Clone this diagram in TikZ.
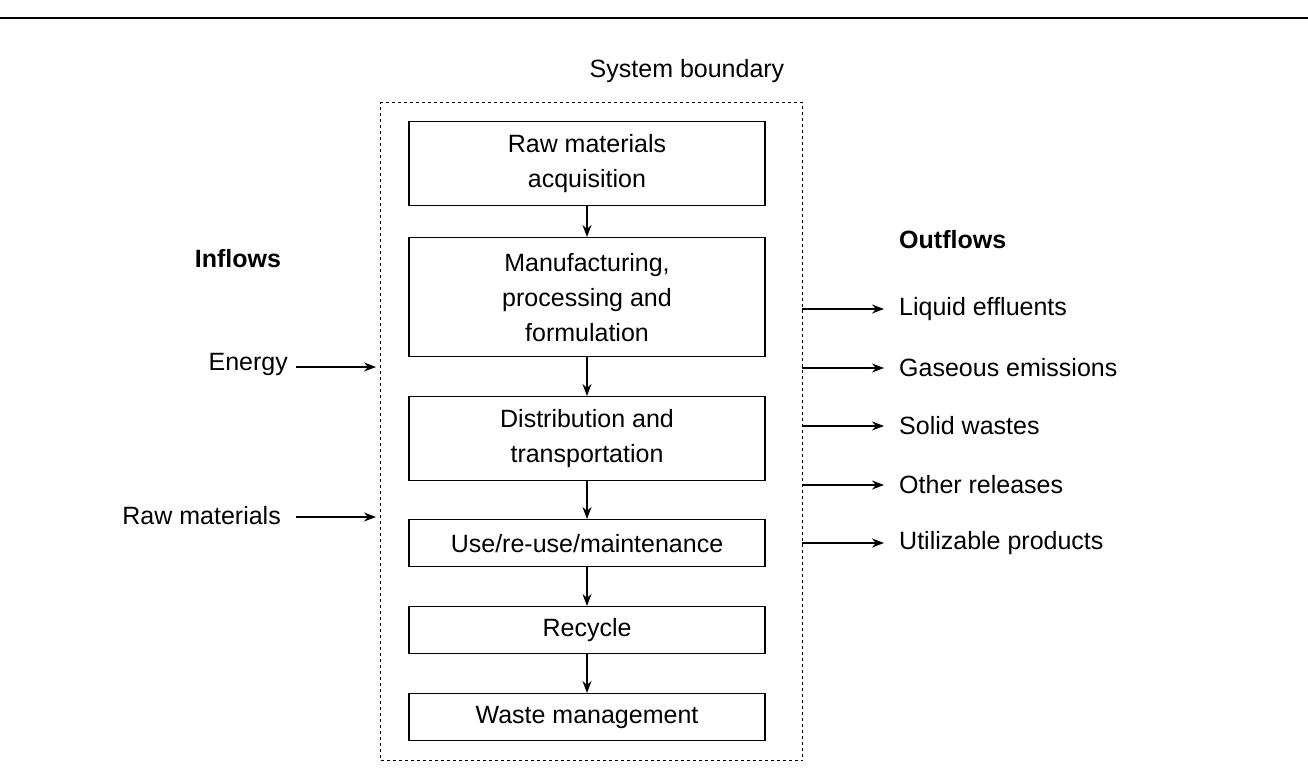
\documentclass[tikz,border=0pt]{standalone}
\usepackage{fontspec}
\setmainfont{Liberation Sans}
\usetikzlibrary{arrows.meta}
\begin{document}
\begin{tikzpicture}[x=1pt,y=-1pt,
  every node/.style={font=\fontsize{25}{35}\selectfont},
  box/.style={draw,line width=1.3pt,minimum width=356pt,inner sep=0pt,align=center,anchor=north},
  arr/.style={-{Stealth[length=12pt,width=9pt]},line width=1.3pt},
  lab/.style={inner sep=0pt}]
\useasboundingbox (0,0) rectangle (1308,770);
\draw[line width=2.5pt] (0,18) -- (1308,18);
\node[draw,dashed,line width=1.3pt,minimum width=422pt,minimum height=658pt,anchor=north west,inner sep=0pt] (sb) at (380,102) {};
\node (sbl) at (687,71) {System boundary};
\node[box,minimum height=84pt] (b1) at (587,121) {Raw materials\\acquisition};
\node[box,minimum height=119pt] (b2) at (587,237) {Manufacturing,\\processing and\\formulation};
\node[box,minimum height=84pt] (b3) at (587,396) {Distribution and\\transportation};
\node[box,minimum height=47pt] (b4) at (587,519) {Use/re-use/maintenance};
\node[box,minimum height=47pt] (b5) at (587,606) {Recycle};
\node[box,minimum height=47pt] (b6) at (587,693) {Waste management};
\foreach \a/\b in {b1/b2,b2/b3,b3/b4,b4/b5,b5/b6} \draw[arr] (\a) -- (\b);
\node[font=\fontsize{25}{35}\selectfont\bfseries] (inf) at (238,259) {Inflows};
\node[font=\fontsize{25}{35}\selectfont\bfseries,anchor=west,inner sep=0pt] (outf) at (899,240) {Outflows};
\node[lab,anchor=east] (en) at (288,364) {Energy};
\node[lab,anchor=east] (rm) at (281,516) {Raw materials};
\coordinate (en2) at (376,367);
\coordinate (rm2) at (376,517);
\draw[arr] (296,367) -- (en2);
\draw[arr] (296,517) -- (rm2);
\foreach \y/\t/\n in {309/Liquid effluents/o1,368/Gaseous emissions/o2,426/Solid wastes/o3,485/Other releases/o4,543/Utilizable products/o5}{
  \node[lab,anchor=west] (\n) at (899,\y) {\t};
  \draw[arr] (802,\y) -- (884,\y);
}
\end{tikzpicture}
\end{document}
